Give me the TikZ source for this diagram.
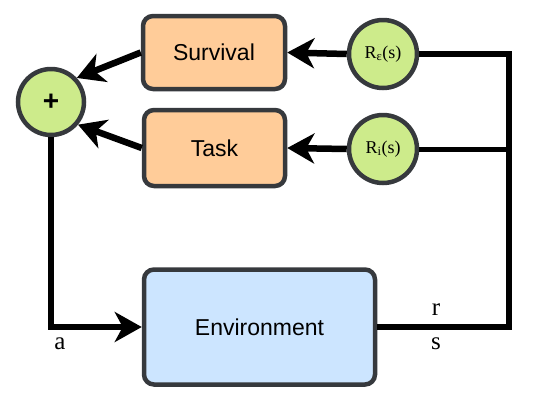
\documentclass[tikz,border=0pt]{standalone}
\usepackage{fontspec}
\setmainfont{Liberation Serif}
\newfontfamily\boxfont{Liberation Sans}
\usetikzlibrary{arrows.meta}
\definecolor{edgegray}{HTML}{36393D}
\definecolor{orangefill}{HTML}{FFCC99}
\definecolor{greenfill}{HTML}{CDEB8B}
\definecolor{bluefill}{HTML}{CCE5FF}
\tikzset{
  blockbox/.style={draw=edgegray, line width=4.5pt, rounded corners=10pt, inner sep=0pt, font=\boxfont\fontsize{23}{26}\selectfont},
  greencirc/.style={circle, draw=edgegray, fill=greenfill, line width=4.5pt, inner sep=0pt},
  conn/.style={line width=6.5pt, line join=miter},
  bigarrow/.style={-{Stealth[length=27pt,width=30pt,inset=8pt]}},
  lbl/.style={font=\fontsize{25}{28}\selectfont, inner sep=0pt}
}
\begin{document}
\begin{tikzpicture}[x=1pt,y=-1pt]
\useasboundingbox (0,0) rectangle (533,405);
% nodes
\node[blockbox, fill=orangefill, minimum width=142pt, minimum height=73pt] (surv) at (214,52.5) {Survival};
\node[blockbox, fill=orangefill, minimum width=141pt, minimum height=76pt] (task) at (214.5,148) {Task};
\node[blockbox, fill=bluefill, minimum width=231pt, minimum height=115pt] (env) at (259.5,327) {Environment};
\node[greencirc, minimum size=66pt, font=\boxfont\bfseries\fontsize{28}{30}\selectfont] (plus) at (51,102) {+};
\node[greencirc, minimum size=68pt, font=\fontsize{18}{20}\selectfont] (re) at (383,54) {R\textsubscript{ε}(s)};
\node[greencirc, minimum size=68pt, font=\fontsize{18}{20}\selectfont] (ri) at (383,149) {R\textsubscript{i}(s)};
\coordinate (rt) at (509,54);
% connectors
\draw[conn, bigarrow] (re.west) -- (surv.east);
\draw[conn, bigarrow] (ri.west) -- (task.east);
\draw[conn, bigarrow] (surv.west) -- (plus.43);
\draw[conn, bigarrow] (task.west) -- (plus.-40);
\draw[conn, bigarrow] (plus.south) |- (env.west);
\draw[conn] (env.east) -| (rt) -- (re.east);
\draw[line width=5pt] (ri.east) -- (ri.east -| rt);
% labels
\node[lbl] (lr) at (436,310) {r};
\node[lbl] (ls) at (436,344) {s};
\node[lbl] (la) at (60,344) {a};
\end{tikzpicture}
\end{document}
